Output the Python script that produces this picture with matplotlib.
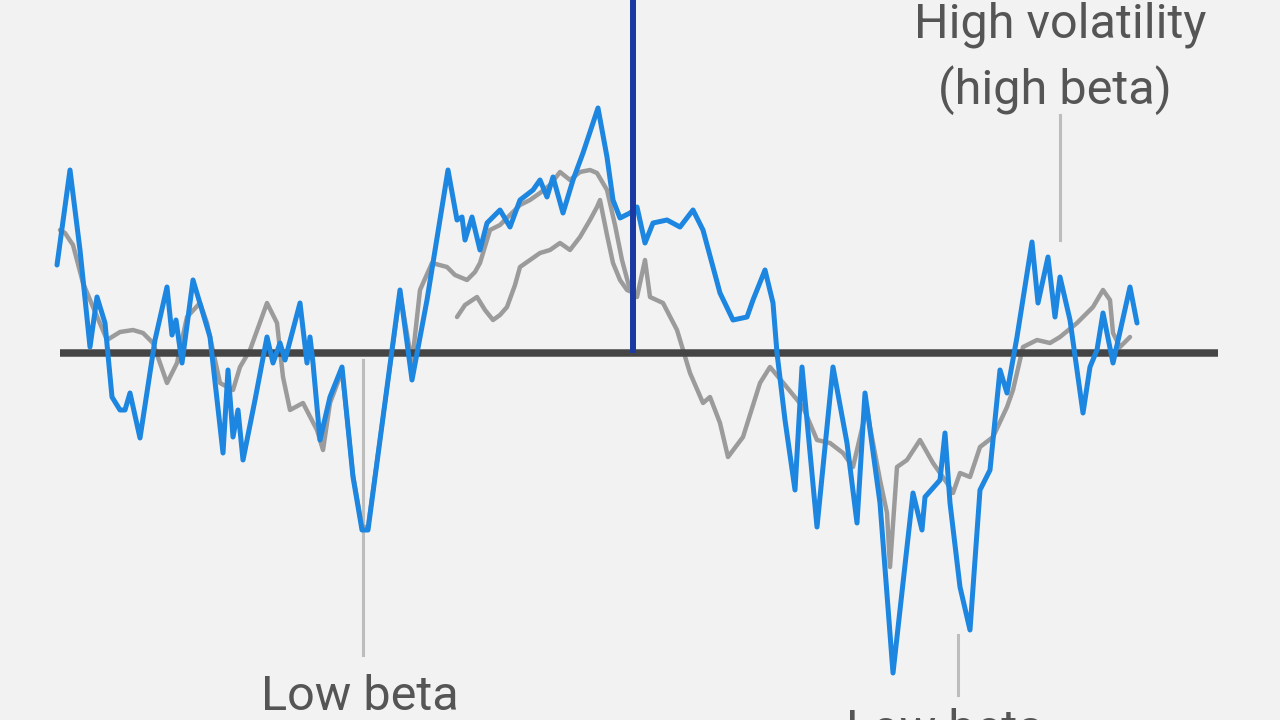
import matplotlib
matplotlib.use("Agg")
import matplotlib.pyplot as plt
import numpy as np

# ---- data (day index, relative return in tenths of a percent) ----
blue_days = [57, 70, 80, 90, 97, 105, 112, 120, 125, 130, 140, 155, 167, 172, 176, 182, 193, 210,
             223, 228, 233, 238, 243, 255, 267, 273, 280, 285, 300, 307, 310, 313, 320, 330, 342,
             353, 362, 368, 400, 412, 427, 448, 457, 462, 465, 472, 480, 487, 500, 510, 520, 533,
             540, 547, 553, 563, 573, 583, 598, 607, 613, 620, 630, 637, 645, 653, 667, 680, 693,
             703, 720, 733, 747, 753, 765, 773, 777, 785, 795, 802, 817, 833, 847, 857, 865, 880,
             893, 913, 922, 925, 940, 945, 950, 960, 970, 980, 990, 1000, 1007, 1017, 1032, 1038,
             1048, 1055, 1060, 1070, 1083, 1090, 1097, 1103, 1113, 1130, 1137]
blue_vals = [88, 183, 103, 6, 56, 30, -44, -57, -57, -40, -85, 13, 66, 18, 33, -10, 73, 16,
             -100, -17, -84, -57, -107, -47, 16, -10, 10, -7, 50, -10, 16, -10, -87, -44, -14,
             -124, -177, -177, 63, -27, 53, 183, 133, 136, 113, 136, 103, 130, 143, 126, 153, 163,
             173, 156, 176, 140, 173, 200, 245, 196, 153, 135, 140, 146, 110, 130, 133, 126, 143,
             123, 60, 33, 36, 53, 83, 50, 0, -67, -137, -14, -174, -14, -90, -170, -40, -150,
             -320, -140, -177, -144, -127, -80, -150, -234, -277, -137, -117, -17, -40, 16, 111, 50,
             96, 36, 76, 33, -60, -14, 3, 40, -10, 66, 30]

gray_days = [60, 65, 73, 83, 93, 107, 120, 133, 143, 153, 167, 177, 187, 200, 207, 220, 233, 240,
             250, 267, 277, 283, 290, 303, 317, 323, 330, 342, 353, 362, 368, 400, 412, 420, 432, 447,
             455, 467, 475, 480, 490, 500, 510, 520, 530, 540, 550, 560, 570, 580, 590, 597, 607,
             615, 622, 630, 637, 645, 650, 663, 677, 690, 703, 710, 720, 728, 743, 760, 770, 785,
             803, 817, 830, 843, 853, 867, 870, 880, 887, 890, 897, 907, 920, 933, 947, 953, 960,
             970, 980, 993, 1007, 1013, 1023, 1037, 1050, 1060, 1077, 1093, 1103, 1110, 1113,
             1120, 1130]
gray_vals = [123, 120, 108, 70, 46, 13, 21, 23, 20, 10, -30, -10, 36, 50, 30, -30, -37, -14,
             3, 50, 30, -24, -57, -50, -77, -97, -50, -18, -122, -174, -174, 60, -10, 63, 90, 86,
             78, 73, 81, 90, 123, 128, 138, 148, 153, 160, 168, 181, 173, 181, 183, 180, 163,
             128, 93, 63, 56, 93, 56, 50, 23, -20, -50, -44, -70, -104, -84, -30, -14, -32,
             -54, -87, -90, -100, -114, -54, -74, -127, -160, -214, -114, -107, -87, -110, -130,
             -140, -120, -124, -94, -84, -54, -37, 6, 13, 10, 16, 30, 46, 63, 53, 20, 6, 16]

gray2_days = [457, 465, 477, 485, 493, 500, 507, 515, 520, 530, 540, 550, 560, 570, 580, 590,
              597, 600, 607, 613, 620, 627, 632]
gray2_vals = [36, 48, 56, 43, 33, 38, 46, 68, 86, 93, 100, 103, 110, 103, 116, 133,
              146, 153, 118, 90, 73, 63, 61]

event_day = 633
labels = ["High volatility", "(high beta)", "Low beta", "Low beta"]

# ---- figure ----
BG = "#f2f2f2"
fig = plt.figure(figsize=(12.8, 7.2), dpi=100, facecolor=BG)
ax = fig.add_axes([0, 0, 1, 1])
ax.set_facecolor(BG)
ax.set_xlim(0, 1280)
ax.set_ylim(-367, 353)
ax.axis("off")

ax.plot(gray_days, gray_vals, color="#9b9b9b", lw=3.2, solid_joinstyle="round",
        solid_capstyle="round", zorder=2)
ax.plot(gray2_days, gray2_vals, color="#9b9b9b", lw=3.2, solid_joinstyle="round",
        solid_capstyle="round", zorder=2)
ax.plot([60, 1218], [0, 0], color="#454545", lw=5.4, solid_capstyle="butt", zorder=3)
ax.plot(blue_days, blue_vals, color="#1c86e0", lw=3.6, solid_joinstyle="round",
        solid_capstyle="round", zorder=4)
ax.plot([event_day, event_day], [0, 353], color="#1a3aa2", lw=4.3,
        solid_capstyle="butt", zorder=5)

# annotation leader lines
ann_col = "#bdbdbd"
ax.plot([1060, 1060], [113, 238], color=ann_col, lw=2.2, zorder=1)
ax.plot([363, 363], [-302, -7], color=ann_col, lw=2.2, zorder=1)
ax.plot([958, 958], [-342, -282], color=ann_col, lw=2.2, zorder=1)

tcol = "#555555"
fs = 35
ax.text(1060, 328, labels[0], ha="center", va="center", fontsize=fs,
        color=tcol, family="Roboto")
ax.text(1055, 263, labels[1], ha="center", va="center", fontsize=fs,
        color=tcol, family="Roboto")
ax.text(360, -344, labels[2], ha="center", va="center", fontsize=fs,
        color=tcol, family="Roboto")
ax.text(945, -378, labels[3], ha="center", va="center", fontsize=fs,
        color=tcol, family="Roboto", clip_on=False)

fig.savefig("out.png", dpi=100, facecolor=BG)
